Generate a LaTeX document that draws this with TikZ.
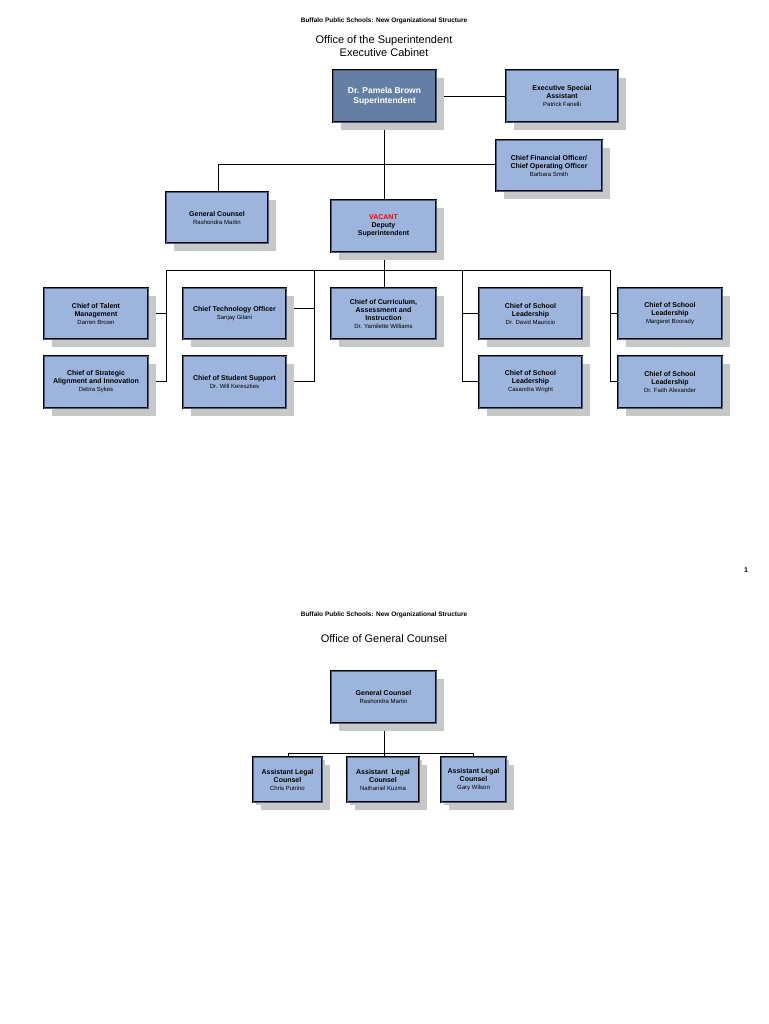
\documentclass[tikz,border=0pt]{standalone}
\usepackage{fontspec}
\setmainfont{Liberation Sans}
\usetikzlibrary{shadows}
\definecolor{bfill}{HTML}{9DB5DC}
\definecolor{dfill}{HTML}{647FA3}
\definecolor{bline}{HTML}{4A5C78}
\tikzset{
 bx/.style={draw=black, line width=0.6pt, double=bline, double distance=0.9pt, fill=bfill,
   drop shadow={shadow xshift=8pt, shadow yshift=-8pt, fill=black!22, opacity=1},
   align=center, inner sep=1pt, font=\fontsize{7}{8}\selectfont},
 sbx/.style={bx, drop shadow={shadow xshift=3pt, shadow yshift=-3pt, fill=black!22, opacity=1}},
 nm/.style={font=\fontsize{6}{7}\selectfont},
 ln/.style={draw=black, line width=0.6pt},
}
\newcommand{\bxn}[7]{\node[#1, minimum width=#4-#3, minimum height=#6-#5] (#2) at ({(#3+#4)/2},{(#5+#6)/2}) {#7};}
\begin{document}
\begin{tikzpicture}[x=1pt,y=-1pt]
\useasboundingbox (0,0) rectangle (768,1024);
\node[font=\fontsize{6.5}{7}\selectfont\bfseries] (h1) at (384,21) {Buffalo Public Schools: New Organizational Structure};
\node[font=\fontsize{11}{13}\selectfont, align=center] (t1) at (384,46) {Office of the Superintendent\\Executive Cabinet};
% lines first
\coordinate (gcTop) at (218,164);
\coordinate (cfoJ) at (384,164);
\draw[ln] (384,122) -- (384,200);
\draw[ln] (436,96) -- (506,96);
\draw[ln] (218,192) -- (218,164) -- (496,164);
\draw[ln] (384,252) -- (384,288);
\draw[ln] (166,270) -- (610,270);
\draw[ln] (166,270) -- (166,381) -- (148,381);
\draw[ln] (166,313) -- (148,313);
\draw[ln] (314,270) -- (314,381) -- (286,381);
\draw[ln] (314,308) -- (286,308);
\draw[ln] (462,270) -- (462,381) -- (479,381);
\draw[ln] (462,313) -- (479,313);
\draw[ln] (610,270) -- (610,381) -- (618,381);
\draw[ln] (610,313) -- (618,313);
% boxes
\bxn{bx,fill=dfill,font=\fontsize{8.5}{10}\selectfont\bfseries,text=white}{sup}{333}{436}{70}{122}{Dr. Pamela Brown\\Superintendent}
\bxn{bx}{esa}{506}{618}{70}{122}{\textbf{Executive Special}\\\textbf{Assistant}\\{\fontsize{6}{7}\selectfont Patrick Fanelli}}
\bxn{bx}{cfo}{496}{602}{140}{191}{\textbf{Chief Financial Officer/}\\\textbf{Chief Operating Officer}\\{\fontsize{6}{7}\selectfont Barbara Smith}}
\bxn{bx}{gc}{166}{268}{192}{243}{\textbf{General Counsel}\\{\fontsize{6}{7}\selectfont Rashondra Martin}}
\bxn{bx}{dep}{331}{436}{200}{252}{\textcolor{red}{\textbf{VACANT}}\\\textbf{Deputy}\\\textbf{Superintendent}}
\bxn{bx}{tal}{44}{148}{288}{339}{\textbf{Chief of Talent}\\\textbf{Management}\\{\fontsize{6}{7}\selectfont Darren Brown}}
\bxn{bx}{tech}{183}{286}{288}{339}{\textbf{Chief Technology Officer}\\{\fontsize{6}{7}\selectfont Sanjay Gilani}}
\bxn{bx}{cur}{331}{436}{288}{339}{\textbf{Chief of Curriculum,}\\\textbf{Assessment and}\\\textbf{Instruction}\\{\fontsize{6}{7}\selectfont Dr. Yamilette Williams}}
\bxn{bx}{sl1}{479}{582}{288}{339}{\textbf{Chief of School}\\\textbf{Leadership}\\{\fontsize{6}{7}\selectfont Dr. David Mauricio}}
\bxn{bx}{sl2}{618}{722}{288}{339}{\textbf{Chief of School}\\\textbf{Leadership}\\{\fontsize{6}{7}\selectfont Margaret Boorady}}
\bxn{bx}{str}{44}{148}{356}{408}{\textbf{Chief of Strategic}\\\textbf{Alignment and Innovation}\\{\fontsize{6}{7}\selectfont Debra Sykes}}
\bxn{bx}{ss}{183}{286}{356}{408}{\textbf{Chief of Student Support}\\{\fontsize{6}{7}\selectfont Dr. Will Kereszties}}
\bxn{bx}{sl3}{479}{582}{356}{408}{\textbf{Chief of School}\\\textbf{Leadership}\\{\fontsize{6}{7}\selectfont Casandra Wright}}
\bxn{bx}{sl4}{618}{722}{356}{408}{\textbf{Chief of School}\\\textbf{Leadership}\\{\fontsize{6}{7}\selectfont Dr. Faith Alexander}}
\node[font=\fontsize{7}{8}\selectfont\bfseries] (pg) at (746,570) {1};
% page 2
\node[font=\fontsize{6.5}{7}\selectfont\bfseries] (h2) at (384,615) {Buffalo Public Schools: New Organizational Structure};
\node[font=\fontsize{11}{13}\selectfont] (t2) at (384,639) {Office of General Counsel};
\draw[ln] (384,723) -- (384,757);
\draw[ln] (288,757) -- (288,753) -- (473,753) -- (473,757);
\bxn{bx}{gc2}{331}{436}{671}{723}{\textbf{General Counsel}\\{\fontsize{6}{7}\selectfont Rashondra Martin}}
\bxn{sbx}{a1}{253}{322}{757}{802}{\textbf{Assistant Legal}\\\textbf{Counsel}\\{\fontsize{6}{7}\selectfont Chris Putrino}}
\bxn{sbx}{a2}{347}{419}{757}{802}{\textbf{Assistant\ \ Legal}\\\textbf{Counsel}\\{\fontsize{6}{7}\selectfont Nathaniel Kuzma}}
\bxn{sbx}{a3}{441}{506}{757}{802}{\textbf{Assistant Legal}\\\textbf{Counsel}\\{\fontsize{6}{7}\selectfont Gary Wilson}}
\end{tikzpicture}
\end{document}
